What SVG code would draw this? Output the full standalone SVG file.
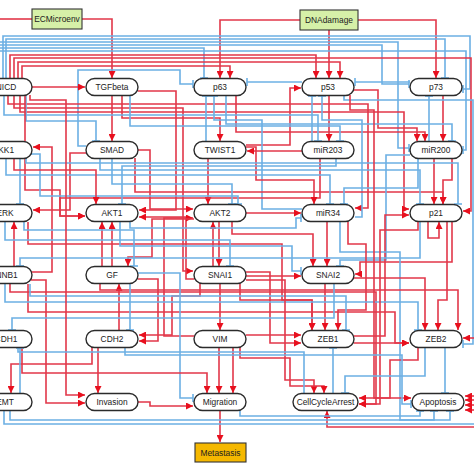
<svg xmlns="http://www.w3.org/2000/svg" width="474" height="474" viewBox="0 0 474 474">
<defs>
<marker id="ah" markerWidth="7" markerHeight="7" refX="7" refY="3.5" orient="auto" markerUnits="userSpaceOnUse"><path d="M0,0 L7,3.5 L0,7 z" fill="#e8101e"/></marker>
<marker id="tb" markerWidth="2" markerHeight="8" refX="1" refY="4" orient="auto" markerUnits="userSpaceOnUse"><path d="M1,0 V8" stroke="#6cb0e4" stroke-width="1.6"/></marker>
<style>
.a{fill:none;stroke:#e2374a;stroke-width:1.6;marker-end:url(#ah)}
.rn{fill:none;stroke:#e2374a;stroke-width:1.6}
.i{fill:none;stroke:#6cb0e4;stroke-width:1.6;marker-end:url(#tb)}
.bn{fill:none;stroke:#6cb0e4;stroke-width:1.6}
.n rect{fill:#fff;stroke:#2b2b2b;stroke-width:1.4}
.s rect{stroke:#333;stroke-width:1.1}
text{font-family:"Liberation Sans",Arial,sans-serif;font-size:8.4px;fill:#222;text-anchor:middle}
</style>
</defs>
<rect width="474" height="474" fill="#fff"/>
<g id="connectors">
<path class="rn" d="M32 19 H0"/>
<path class="a" d="M82 19 H112 V78"/>
<path class="a" d="M300 20 H220 V78"/>
<path class="a" d="M329 29 V78"/>
<path class="a" d="M358 20 H436 V78"/>
<path class="i" d="M3 78 V36 H470 V89 H463"/>
<path class="i" d="M6 78 V39 H445 V78"/>
<path class="i" d="M0 42 H398 V148 H409"/>
<path class="i" d="M0 45 H382 V84 H409"/>
<path class="i" d="M0 48 H204 V78"/>
<path class="i" d="M0 51 H466 V150 H463"/>
<path class="a" d="M10 78 V55 H316 V78"/>
<path class="a" d="M14 78 V58 H471 V211 H463"/>
<path class="a" d="M18 78 V62 H340 V78"/>
<path class="a" d="M22 78 V66 H230 V78"/>
<path class="i" d="M86 146 H78 V70 H180 V84 H193"/>
<path class="a" d="M32 87 H85"/>
<path class="i" d="M302 82 H247"/>
<path class="i" d="M410 82 H355"/>
<path class="a" d="M246 145 H290 V88 H301"/>
<path class="a" d="M112 95 V141"/>
<path class="a" d="M122 95 V118 H220 V141"/>
<path class="a" d="M329 95 V141"/>
<path class="a" d="M354 90 H378 V128 H417 V141"/>
<path class="a" d="M236 95 V132 H425 V141"/>
<path class="a" d="M443 95 V141"/>
<path class="a" d="M8 96 V104 H368 V208 H355"/>
<path class="a" d="M14 96 V108 H183 V271 H193"/>
<path class="a" d="M20 96 V112 H404 V209 H409"/>
<path class="i" d="M4 96 V115 H318 V141"/>
<path class="i" d="M26 96 V121 H96 V141"/>
<path class="i" d="M130 95 V126 H340 V141"/>
<path class="i" d="M226 95 V124 H452 V141"/>
<path class="i" d="M206 141 V96"/>
<path class="i" d="M302 209 H262 V120 H214 V96"/>
<path class="i" d="M344 95 V100 H473 V344 H463"/>
<path class="i" d="M429 141 V96"/>
<path class="i" d="M312 141 V96"/>
<path class="i" d="M355 217 H362 V120 H322 V96"/>
<path class="a" d="M31 272 H52 V147 H33"/>
<path class="a" d="M302 151 H247"/>
<path class="a" d="M86 153 H70 V210 H33"/>
<path class="a" d="M208 158 V204"/>
<path class="a" d="M138 91 H176 V210 H139"/>
<path class="a" d="M194 279 H186 V217 H139"/>
<path class="a" d="M138 150 H150 V209 H193"/>
<path class="a" d="M194 336 H164 V218 H193"/>
<path class="a" d="M25 96 V190 H60 V216 H85"/>
<path class="a" d="M320 158 V198 H60 V216 H85"/>
<path class="a" d="M246 147 H256 V180 H314 V204"/>
<path class="a" d="M434 158 V204"/>
<path class="a" d="M452 158 V180 H443 V204"/>
<path class="a" d="M135 158 V192 H443 V204"/>
<path class="i" d="M100 158 V170 H420 V204"/>
<path class="i" d="M336 158 V166 H122 V204"/>
<path class="i" d="M26 158 V163 H458 V204"/>
<path class="i" d="M410 155 H386 V260 H340 V266"/>
<path class="i" d="M418 158 V188 H344 V204"/>
<path class="i" d="M31 154 H40 V196 H238 V204"/>
<path class="i" d="M20 158 V204"/>
<path class="i" d="M6 158 V175 H330 V204"/>
<path class="a" d="M14 158 V170 H96 V204"/>
<path class="i" d="M112 158 V184 H232 V204"/>
<path class="a" d="M14 266 V222"/>
<path class="a" d="M102 266 V222"/>
<path class="a" d="M112 266 V222"/>
<path class="a" d="M194 219 H152 V257 H128 V266"/>
<path class="a" d="M213 266 V222"/>
<path class="a" d="M219 222 V266"/>
<path class="a" d="M246 213 H301"/>
<path class="a" d="M327 222 V266"/>
<path class="a" d="M232 222 V234 H313 V266"/>
<path class="a" d="M354 336 H385 V215 H409"/>
<path class="a" d="M428 222 V238 H439 V222"/>
<path class="a" d="M28 222 V244 H282 V300 H312 V330"/>
<path class="a" d="M452 222 V262 H360 V274 H355"/>
<path class="i" d="M5 222 V240 H230 V266"/>
<path class="i" d="M120 222 V246 H292 V271 H301"/>
<path class="i" d="M340 222 V252 H400 V420 H450 V411"/>
<path class="i" d="M420 222 V258 H20 V266"/>
<path class="i" d="M24 222 V230 H134 V266"/>
<path class="i" d="M130 222 V228 H296 V218 H301"/>
<path class="a" d="M246 276 H301"/>
<path class="a" d="M200 284 V296 H172 V335 H139"/>
<path class="a" d="M138 279 H158 V341 H139"/>
<path class="a" d="M220 284 V330"/>
<path class="a" d="M119 330 V284"/>
<path class="a" d="M240 284 V300 H312 V330"/>
<path class="a" d="M325 284 V330"/>
<path class="a" d="M348 222 V244 H366 V310 H338 V330"/>
<path class="a" d="M246 335 H301"/>
<path class="a" d="M246 272 H270 V343 H301"/>
<path class="a" d="M354 278 H425 V330"/>
<path class="a" d="M447 222 V300 H438 V330"/>
<path class="a" d="M354 343 H409"/>
<path class="a" d="M474 338 H463"/>
<path class="a" d="M31 280 H46 V403 H85"/>
<path class="a" d="M10 284 V292 H376 V404 H359"/>
<path class="a" d="M28 284 V312 H395 V343 H409"/>
<path class="a" d="M100 284 V290 H458 V330"/>
<path class="i" d="M5 284 V302 H418 V330"/>
<path class="i" d="M130 284 V330"/>
<path class="i" d="M334 284 V318 H12 V330"/>
<path class="i" d="M138 273 H180 V398 H193"/>
<path class="i" d="M30 284 V296 H346 V330"/>
<path class="a" d="M98 347 V393"/>
<path class="a" d="M92 347 V364 H11 V393"/>
<path class="a" d="M22 347 V373 H207 V393"/>
<path class="a" d="M219 347 V393"/>
<path class="a" d="M233 347 V393"/>
<path class="a" d="M138 402 H150 V406 H193"/>
<path class="a" d="M220 411 V442"/>
<path class="a" d="M30 95 V100 H66 V395 H85"/>
<path class="a" d="M246 280 H285 V380 H314 V393"/>
<path class="a" d="M240 347 V358 H290 V386 H324 V393"/>
<path class="a" d="M418 347 V360 H390 V398 H359"/>
<path class="a" d="M418 222 V230 H380 V404 H359"/>
<path class="a" d="M474 427 H327 V411"/>
<path class="a" d="M350 95 V110 H374 V398 H411"/>
<path class="a" d="M474 396 H465"/>
<path class="a" d="M474 400 H465"/>
<path class="a" d="M474 405 H465"/>
<path class="a" d="M474 410 H465"/>
<path class="i" d="M20 393 V348"/>
<path class="i" d="M333 393 V348"/>
<path class="i" d="M18 347 V352 H304 V394"/>
<path class="i" d="M125 347 V355 H402 V404 H411"/>
<path class="i" d="M10 411 V420 H434 V411"/>
<path class="bn" d="M4 411 V424 H474"/>
<path class="i" d="M445 347 V393"/>
<path class="i" d="M425 347 V376 H345 V393"/>
<path class="i" d="M240 411 V416 H420 V411"/>
</g>
<g id="ECMicroenv" class="s"><rect x="32" y="9" width="50" height="20" fill="#d6f0a8"/><text x="57" y="22">ECMicroenv</text></g>
<g id="DNAdamage" class="s"><rect x="300" y="10" width="58" height="20" fill="#d6f0a8"/><text x="329" y="23">DNAdamage</text></g>
<g id="NICD" class="n"><rect x="-20" y="78.5" width="52" height="17" rx="8.5"/><text x="6" y="90">NICD</text></g>
<g id="TGFbeta" class="n"><rect x="86" y="78.5" width="52" height="17" rx="8.5"/><text x="112" y="90">TGFbeta</text></g>
<g id="p63" class="n"><rect x="194" y="78.5" width="52" height="17" rx="8.5"/><text x="220" y="90">p63</text></g>
<g id="p53" class="n"><rect x="302" y="78.5" width="52" height="17" rx="8.5"/><text x="328" y="90">p53</text></g>
<g id="p73" class="n"><rect x="410" y="78.5" width="52" height="17" rx="8.5"/><text x="436" y="90">p73</text></g>
<g id="IKK1" class="n"><rect x="-20" y="141.5" width="52" height="17" rx="8.5"/><text x="5" y="153">IKK1</text></g>
<g id="SMAD" class="n"><rect x="86" y="141.5" width="52" height="17" rx="8.5"/><text x="112" y="153">SMAD</text></g>
<g id="TWIST1" class="n"><rect x="194" y="141.5" width="52" height="17" rx="8.5"/><text x="220" y="153">TWIST1</text></g>
<g id="miR203" class="n"><rect x="302" y="141.5" width="52" height="17" rx="8.5"/><text x="328" y="153">miR203</text></g>
<g id="miR200" class="n"><rect x="410" y="141.5" width="52" height="17" rx="8.5"/><text x="436" y="153">miR200</text></g>
<g id="ERK" class="n"><rect x="-20" y="204.5" width="52" height="17" rx="8.5"/><text x="5" y="216">ERK</text></g>
<g id="AKT1" class="n"><rect x="86" y="204.5" width="52" height="17" rx="8.5"/><text x="112" y="216">AKT1</text></g>
<g id="AKT2" class="n"><rect x="194" y="204.5" width="52" height="17" rx="8.5"/><text x="220" y="216">AKT2</text></g>
<g id="miR34" class="n"><rect x="302" y="204.5" width="52" height="17" rx="8.5"/><text x="328" y="216">miR34</text></g>
<g id="p21" class="n"><rect x="410" y="204.5" width="52" height="17" rx="8.5"/><text x="436" y="216">p21</text></g>
<g id="CTNNB1" class="n"><rect x="-20" y="266.5" width="52" height="17" rx="8.5"/><text x="1" y="278">CTNNB1</text></g>
<g id="GF" class="n"><rect x="86" y="266.5" width="52" height="17" rx="8.5"/><text x="112" y="278">GF</text></g>
<g id="SNAI1" class="n"><rect x="194" y="266.5" width="52" height="17" rx="8.5"/><text x="220" y="278">SNAI1</text></g>
<g id="SNAI2" class="n"><rect x="302" y="266.5" width="52" height="17" rx="8.5"/><text x="328" y="278">SNAI2</text></g>
<g id="CDH1" class="n"><rect x="-20" y="330.5" width="52" height="17" rx="8.5"/><text x="6" y="342">CDH1</text></g>
<g id="CDH2" class="n"><rect x="86" y="330.5" width="52" height="17" rx="8.5"/><text x="112" y="342">CDH2</text></g>
<g id="VIM" class="n"><rect x="194" y="330.5" width="52" height="17" rx="8.5"/><text x="220" y="342">VIM</text></g>
<g id="ZEB1" class="n"><rect x="302" y="330.5" width="52" height="17" rx="8.5"/><text x="328" y="342">ZEB1</text></g>
<g id="ZEB2" class="n"><rect x="410" y="330.5" width="52" height="17" rx="8.5"/><text x="436" y="342">ZEB2</text></g>
<g id="EMT" class="n"><rect x="-20" y="393.5" width="52" height="17" rx="8.5"/><text x="5" y="405">EMT</text></g>
<g id="Invasion" class="n"><rect x="86" y="393.5" width="52" height="17" rx="8.5"/><text x="112" y="405">Invasion</text></g>
<g id="Migration" class="n"><rect x="194" y="393.5" width="52" height="17" rx="8.5"/><text x="220" y="405">Migration</text></g>
<g id="CellCycleArrest" class="n"><rect x="293" y="393.5" width="65" height="17" rx="8.5"/><text x="325.5" y="405">CellCycleArrest</text></g>
<g id="Apoptosis" class="n"><rect x="412" y="393.5" width="52" height="17" rx="8.5"/><text x="438" y="405">Apoptosis</text></g>
<g id="Metastasis" class="s"><rect x="195" y="443" width="51" height="19" fill="#f5b800"/><text x="220.5" y="455.5">Metastasis</text></g>
</svg>
